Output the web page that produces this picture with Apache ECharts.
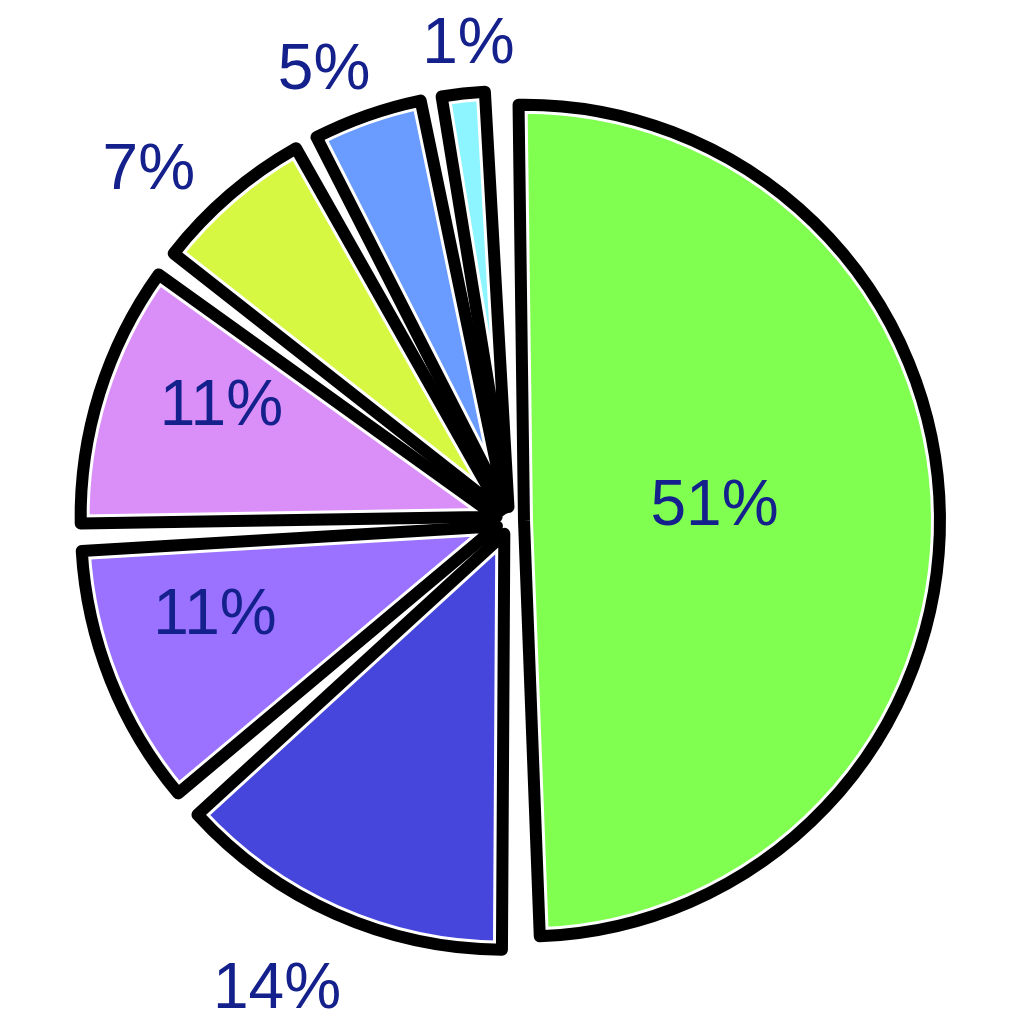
<!DOCTYPE html>
<html>
<head>
<meta charset="utf-8">
<script src="https://cdn.jsdelivr.net/npm/echarts@6/dist/echarts.min.js"></script>
<style>
  html, body { margin: 0; padding: 0; background: #fff; }
  #chart { width: 1024px; height: 1024px; }
</style>
</head>
<body>
<div id="chart"></div>
<script>
// 조각 값 (12시 방향부터 시계방향)
const values = [51, 14, 11, 11, 7, 5, 1];
const colors = ["#80ff50", "#4646dc", "#9a72ff", "#da8ef8", "#d6f843", "#6a9bff", "#8cf5ff"];

const center = [510, 521];
const pieRadius = 416;
const startAngle = 92;
const minAngle = 6;
const labelColor = "#14208c";
const labelFont = "Liberation Sans, Arial, sans-serif";

// 라벨 그룹: 어느 조각의 라벨을 어느 반지름 링에, 얼마나 회전해서 둘지
const labelGroups = [
  { idx: [0], radius: [152, 252], shift: 3 },
  { idx: [2, 3], radius: [257, 357], shift: -2 },
  { idx: [1], radius: [471, 571], shift: -1 },
  { idx: [4], radius: [450, 550], shift: 7.5 },
  { idx: [5], radius: [434, 534], shift: 5.5 },
  { idx: [6], radius: [424, 524], shift: 0 },
];

// 조각 모양 (테두리 층과 채움 층이 같은 배치를 쓰도록)
function sliceSeries(name, itemStyleFn, z) {
  return {
    name: name,
    type: "pie",
    center: center,
    radius: [0, pieRadius],
    startAngle: startAngle,
    minAngle: minAngle,
    clockwise: true,
    padAngle: 2.5,
    selectedMode: "multiple",
    selectedOffset: 14,
    avoidLabelOverlap: false,
    silent: true,
    z: z,
    emphasis: { disabled: true },
    label: { show: false },
    labelLine: { show: false },
    data: values.map((v, i) => ({
      value: v,
      selected: true,
      itemStyle: itemStyleFn(i),
    })),
  };
}

function labelSeries(group, n) {
  return {
    name: "label" + n,
    type: "pie",
    center: center,
    radius: group.radius,
    startAngle: startAngle + group.shift,
    minAngle: minAngle,
    clockwise: true,
    silent: true,
    avoidLabelOverlap: false,
    z: 10,
    label: {
      position: "inside",
      formatter: "{c}%",
      color: labelColor,
      fontSize: 64,
      fontFamily: labelFont,
    },
    labelLine: { show: false },
    itemStyle: { color: "transparent", borderWidth: 0 },
    emphasis: { disabled: true },
    data: values.map((v, i) => ({
      value: v,
      label: { show: group.idx.includes(i) },
    })),
  };
}

const myChart = echarts.init(document.getElementById("chart"));

const option = {
  animation: false,
  backgroundColor: "#ffffff",
  series: [
    // 채움 + 안쪽 흰 선
    sliceSeries("fill", (i) => ({
      color: colors[i],
      borderColor: "#ffffff",
      borderWidth: 18,
      borderJoin: "round",
    }), 2),
    // 검은 테두리
    sliceSeries("outline", () => ({
      color: "transparent",
      borderColor: "#000000",
      borderWidth: 12,
      borderJoin: "round",
    }), 3),
    ...labelGroups.map((g, n) => labelSeries(g, n)),
  ],
};

myChart.setOption(option);
window.addEventListener("resize", () => {
  myChart.resize();
});
</script>
</body>
</html>
